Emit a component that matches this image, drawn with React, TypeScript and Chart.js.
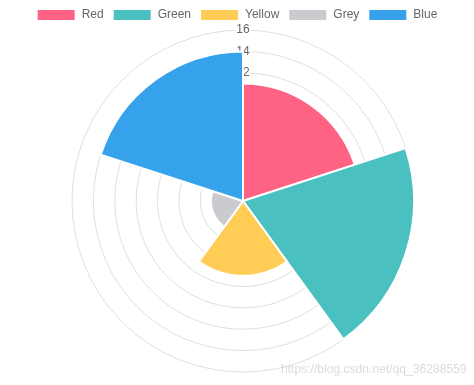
import React, { useEffect, useRef } from "react";
import { Chart, registerables } from "chart.js";

Chart.register(...registerables);

const labels = ["Red", "Green", "Yellow", "Grey", "Blue"];
const values = [11, 16, 7, 3, 14];
const colors = [
  "rgb(255, 99, 132)",
  "rgb(75, 192, 192)",
  "rgb(255, 205, 86)",
  "rgb(201, 203, 207)",
  "rgb(54, 162, 235)",
];
const tickStep = 2;
const watermark = "https://blog.csdn.net/qq_36288559";

export default function App() {
  const ref = useRef<HTMLCanvasElement | null>(null);

  useEffect(() => {
    document.body.style.margin = "0";
    if (!ref.current) return;
    const chart = new Chart(ref.current, {
      type: "polarArea",
      data: {
        labels,
        datasets: [
          {
            data: values,
            backgroundColor: colors,
            borderColor: "#fff",
            borderWidth: 2,
          },
        ],
      },
      options: {
        animation: false,
        responsive: false,
        maintainAspectRatio: false,
        font: { family: "'Liberation Sans', Arial, sans-serif", size: 12 },
        color: "#666",
        plugins: {
          legend: {
            position: "top",
            maxHeight: 22,
            labels: { color: "#666", boxWidth: 39, boxHeight: 12, padding: 9 },
          },
          tooltip: { enabled: false },
        },
        scales: {
          r: {
            beginAtZero: true,
            ticks: { stepSize: tickStep, color: "#666" },
            grid: { color: "rgba(0,0,0,0.13)" },
          },
          spacer: {
            type: "linear",
            position: "left",
            display: true,
            grid: { display: false },
            border: { display: false },
            ticks: { display: false },
            afterFit: (scale: any) => {
              scale.width = 12;
            },
          },
        },
      } as any,
    });
    return () => chart.destroy();
  }, []);

  return (
    <div style={{ position: "relative", width: 474, height: 385, overflow: "hidden", background: "#fff" }}>
      <canvas
        ref={ref}
        width={474}
        height={380}
        style={{ position: "absolute", left: 0, top: 0, width: 474, height: 380 }}
      />
      <div
        style={{
          position: "absolute",
          left: 281,
          top: 362,
          fontFamily: "'Liberation Sans', Arial, sans-serif",
          fontSize: 12.1,
          color: "rgba(215,215,215,0.9)",
          whiteSpace: "nowrap",
        }}
      >
        {watermark}
      </div>
    </div>
  );
}
